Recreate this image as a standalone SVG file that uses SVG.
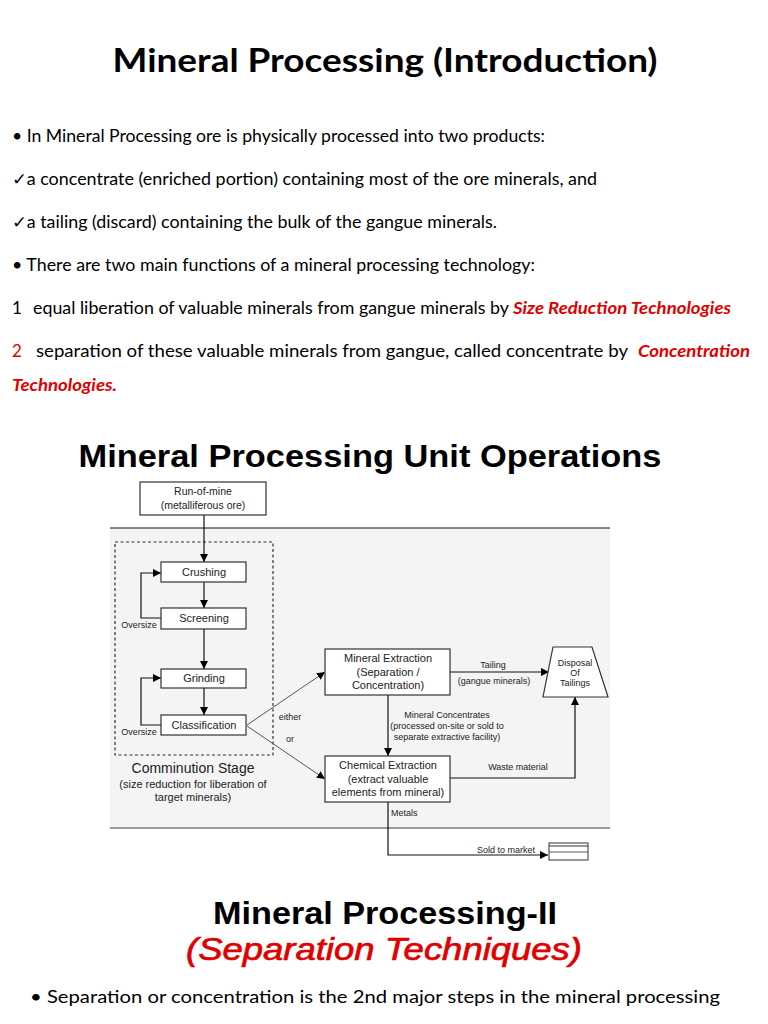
<svg xmlns="http://www.w3.org/2000/svg" width="768" height="1024" viewBox="0 0 768 1024">
<defs>
<marker id="ah" viewBox="0 0 10 10" refX="10" refY="5" markerWidth="8" markerHeight="8" markerUnits="userSpaceOnUse" orient="auto">
<path d="M0,0 L10,5 L0,10 z" fill="#000"/>
</marker>
<style>
.body{font-family:Lato,"Open Sans","Noto Sans",sans-serif;font-size:17px;fill:#000}
.red{fill:#e00000;font-weight:bold;font-style:italic}
.dg{font-family:"Liberation Sans",Arial,sans-serif;fill:#222}
.box{fill:#fff;stroke:#333;stroke-width:1.2}
.ln{fill:none;stroke:#111;stroke-width:1.2}
</style>
</defs>
<rect width="768" height="1024" fill="#fff"/>

<!-- Top text -->
<text x="385" y="72" text-anchor="middle" class="body" style="font-size:33px;font-weight:bold" textLength="545" lengthAdjust="spacingAndGlyphs">Mineral Processing (Introduction)</text>
<text x="12" y="142" class="body" textLength="533" lengthAdjust="spacingAndGlyphs">• In Mineral Processing ore is physically processed into two products:</text>
<text x="12" y="185" class="body" textLength="585" lengthAdjust="spacingAndGlyphs">✓a concentrate (enriched portion) containing most of the ore minerals, and</text>
<text x="12" y="228" class="body" textLength="485" lengthAdjust="spacingAndGlyphs">✓a tailing (discard) containing the bulk of the gangue minerals.</text>
<text x="12" y="271" class="body" textLength="523" lengthAdjust="spacingAndGlyphs">• There are two main functions of a mineral processing technology:</text>
<text x="12" y="314" class="body">1</text>
<text x="33" y="314" class="body" textLength="476" lengthAdjust="spacingAndGlyphs">equal liberation of valuable minerals from gangue minerals by</text>
<text x="513" y="314" class="body red" textLength="218" lengthAdjust="spacingAndGlyphs">Size Reduction Technologies</text>
<text x="12" y="357" class="body" fill="#e00000" style="fill:#e00000">2</text>
<text x="36" y="357" class="body" textLength="592" lengthAdjust="spacingAndGlyphs">separation of these valuable minerals from gangue, called concentrate by</text>
<text x="638" y="357" class="body red" textLength="112" lengthAdjust="spacingAndGlyphs">Concentration</text>
<text x="12" y="391" class="body red" textLength="105" lengthAdjust="spacingAndGlyphs">Technologies.</text>

<text x="370" y="467" text-anchor="middle" font-family="'Liberation Sans',Arial,sans-serif" font-size="31" font-weight="bold" textLength="583" lengthAdjust="spacingAndGlyphs">Mineral Processing Unit Operations</text>

<!-- Diagram background -->
<rect x="110" y="528" width="500" height="300" fill="#f4f4f4"/>
<line x1="110" y1="528" x2="610" y2="528" stroke="#111" stroke-width="1.2"/>
<line x1="110" y1="828" x2="610" y2="828" stroke="#999" stroke-width="2"/>
<rect x="115" y="542" width="158" height="213" fill="none" stroke="#333" stroke-width="1.2" stroke-dasharray="3,2.5"/>

<g id="connectors">
<line class="ln" x1="204" y1="515" x2="204" y2="562" marker-end="url(#ah)"/>
<line class="ln" x1="204" y1="582" x2="204" y2="608" marker-end="url(#ah)"/>
<line class="ln" x1="204" y1="629" x2="204" y2="669" marker-end="url(#ah)"/>
<line class="ln" x1="204" y1="688" x2="204" y2="715" marker-end="url(#ah)"/>
<polyline class="ln" points="161,618 141,618 141,573 161,573" marker-end="url(#ah)"/>
<polyline class="ln" points="161,725 141,725 141,678 161,678" marker-end="url(#ah)"/>
<line x1="247" y1="725" x2="325" y2="672" stroke="#444" stroke-width="0.9" marker-end="url(#ah)"/>
<line x1="247" y1="726" x2="325" y2="779" stroke="#444" stroke-width="0.9" marker-end="url(#ah)"/>
<line class="ln" x1="450" y1="672" x2="549" y2="672" marker-end="url(#ah)"/>
<line class="ln" x1="388" y1="695" x2="388" y2="756" marker-end="url(#ah)"/>
<polyline class="ln" points="450,778 575,778 575,697" marker-end="url(#ah)"/>
<polyline class="ln" points="388,802 388,855 548,855" marker-end="url(#ah)"/>
</g>

<g id="run-of-mine">
<rect class="box" x="140" y="482" width="126" height="33"/>
<text class="dg" x="203" y="495" font-size="10.5" text-anchor="middle">Run-of-mine</text>
<text class="dg" x="203" y="509" font-size="10.5" text-anchor="middle">(metalliferous ore)</text>
</g>
<g id="crushing">
<rect class="box" x="161" y="562" width="85" height="20"/>
<text class="dg" x="204" y="576" font-size="11" text-anchor="middle">Crushing</text>
</g>
<g id="screening">
<rect class="box" x="161" y="608" width="85" height="21"/>
<text class="dg" x="204" y="622" font-size="11" text-anchor="middle">Screening</text>
</g>
<g id="grinding">
<rect class="box" x="161" y="669" width="85" height="19"/>
<text class="dg" x="204" y="682" font-size="11" text-anchor="middle">Grinding</text>
</g>
<g id="classification">
<rect class="box" x="161" y="715" width="85" height="20"/>
<text class="dg" x="204" y="729" font-size="11" text-anchor="middle">Classification</text>
</g>
<text class="dg" x="139" y="628" font-size="9" text-anchor="middle">Oversize</text>
<text class="dg" x="139" y="735" font-size="9" text-anchor="middle">Oversize</text>

<g id="comminution-label">
<text class="dg" x="193" y="773" font-size="14" text-anchor="middle">Comminution Stage</text>
<text class="dg" x="193" y="788" font-size="11" text-anchor="middle">(size reduction for liberation of</text>
<text class="dg" x="193" y="801" font-size="11" text-anchor="middle">target minerals)</text>
</g>
<text class="dg" x="290" y="720" font-size="9" text-anchor="middle">either</text>
<text class="dg" x="290" y="742" font-size="9" text-anchor="middle">or</text>

<g id="mineral-extraction">
<rect class="box" x="325" y="649" width="125" height="46"/>
<text class="dg" x="388" y="662" font-size="11" text-anchor="middle">Mineral Extraction</text>
<text class="dg" x="388" y="676" font-size="11" text-anchor="middle">(Separation /</text>
<text class="dg" x="388" y="689" font-size="11" text-anchor="middle">Concentration)</text>
</g>
<g id="chemical-extraction">
<rect class="box" x="325" y="756" width="125" height="46"/>
<text class="dg" x="388" y="769" font-size="11" text-anchor="middle">Chemical Extraction</text>
<text class="dg" x="388" y="783" font-size="11" text-anchor="middle">(extract valuable</text>
<text class="dg" x="388" y="796" font-size="11" text-anchor="middle">elements from mineral)</text>
</g>
<g id="disposal">
<polygon points="553,647 592,647 608,697 543,697" fill="#fff" stroke="#333" stroke-width="1.2"/>
<text class="dg" x="575" y="666" font-size="9" text-anchor="middle">Disposal</text>
<text class="dg" x="575" y="676" font-size="9" text-anchor="middle">Of</text>
<text class="dg" x="575" y="686" font-size="9" text-anchor="middle">Tailings</text>
</g>
<text class="dg" x="493" y="668" font-size="9" text-anchor="middle">Tailing</text>
<text class="dg" x="494" y="684" font-size="9" text-anchor="middle">(gangue minerals)</text>
<text class="dg" x="447" y="718" font-size="9" text-anchor="middle">Mineral Concentrates</text>
<text class="dg" x="447" y="729" font-size="9" text-anchor="middle">(processed on-site or sold to</text>
<text class="dg" x="447" y="740" font-size="9" text-anchor="middle">separate extractive facility)</text>
<text class="dg" x="518" y="770" font-size="9" text-anchor="middle">Waste material</text>
<text class="dg" x="391" y="816" font-size="9">Metals</text>
<text class="dg" x="477" y="853" font-size="9">Sold to market</text>
<g id="market">
<rect x="549" y="843" width="39" height="17" fill="#fff" stroke="#333" stroke-width="1"/>
<line x1="549" y1="846" x2="588" y2="846" stroke="#333" stroke-width="1"/>
<line x1="549" y1="852" x2="588" y2="852" stroke="#333" stroke-width="0.8"/>
</g>

<!-- Bottom section -->
<text x="385" y="924" text-anchor="middle" font-family="'Liberation Sans',Arial,sans-serif" font-size="31" font-weight="bold" textLength="344" lengthAdjust="spacingAndGlyphs">Mineral Processing-II</text>
<text x="384" y="960" text-anchor="middle" font-family="'Liberation Sans',Arial,sans-serif" font-size="32" font-style="italic" fill="#e00000" stroke="#e00000" stroke-width="0.7" textLength="396" lengthAdjust="spacingAndGlyphs">(Separation Techniques)</text>
<text x="30" y="1003" class="body" style="font-size:18px" textLength="690" lengthAdjust="spacingAndGlyphs">• Separation or concentration is the 2nd major steps in the mineral processing</text>
</svg>
